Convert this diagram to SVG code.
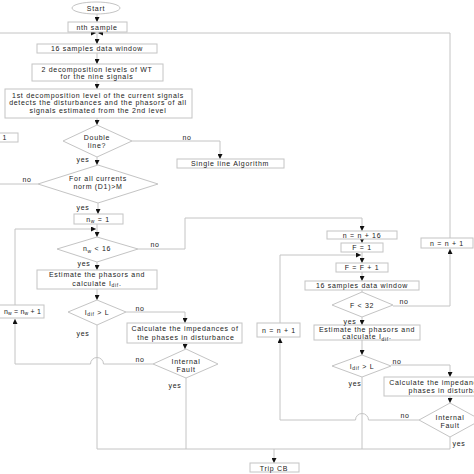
<svg xmlns="http://www.w3.org/2000/svg" width="474" height="474" viewBox="0 0 474 474">
<style>
.bx{fill:#fff;stroke:#c4c4c4;stroke-width:1}
.ln{fill:none;stroke:#c4c4c4;stroke-width:1}
.ar{fill:none;stroke:#c4c4c4;stroke-width:1;marker-end:url(#ah)}
text{font-family:"Liberation Sans",Arial,sans-serif;font-size:7px;letter-spacing:0.7px;fill:#222;text-anchor:middle}
</style>
<defs>
<marker id="ah" viewBox="0 0 6 6" refX="6" refY="3" markerWidth="5" markerHeight="5" markerUnits="userSpaceOnUse" orient="auto">
<path d="M0,0 L6,3 L0,6 z" fill="#111"/>
</marker>
</defs>
<rect width="474" height="474" fill="#fff"/>
<g id="connectors">
<path class="ar" d="M97,14 V22"/>
<path class="ln" d="M97,32 V37"/>
<path class="ar" d="M97,37 V44"/>
<path class="ar" d="M0,33 H96"/>
<path class="ar" d="M450,238 V33 H98"/>
<path class="ar" d="M97,53 V64"/>
<path class="ar" d="M97,81 V89"/>
<path class="ar" d="M97,118 V125"/>
<path class="ar" d="M132,141 H220 V159"/>
<path class="ar" d="M97,157 V165"/>
<path class="ln" d="M38,184 H0"/>
<path class="ar" d="M98,203 V214"/>
<path class="ar" d="M97,224 V237"/>
<path class="ar" d="M15,305 V229 H96"/>
<path class="ar" d="M138,249 H185 V218 H362 V231"/>
<path class="ar" d="M97,262 V270"/>
<path class="ar" d="M97,289 V300"/>
<path class="ar" d="M126,312 H185 V323"/>
<path class="ln" d="M97,325 V449"/>
<path class="ar" d="M185,343 V349"/>
<path class="ar" d="M153,364 H103.5 A6.5,6.5 0 0 0 90.5,364 H15 V319"/>
<path class="ln" d="M186,378 V449"/>
<path class="ar" d="M362,239 V243"/>
<path class="ar" d="M362,252 V263"/>
<path class="ar" d="M280,323 V255 H361"/>
<path class="ar" d="M362,272 V281"/>
<path class="ln" d="M362,290 V292"/>
<path class="ar" d="M393,306 H450 V249"/>
<path class="ar" d="M362,317 V325"/>
<path class="ar" d="M362,340 V355"/>
<path class="ar" d="M391,365 H450 V377"/>
<path class="ln" d="M362,377 V449"/>
<path class="ar" d="M450,396 V403"/>
<path class="ar" d="M419,420 H368.5 A6.5,6.5 0 0 0 355.5,420 H280 V338"/>
<path class="ln" d="M450,437 V449 H97"/>
<path class="ar" d="M274,449 V463"/>
</g>
<g id="start"><ellipse class="bx" cx="96" cy="8" rx="24" ry="6"/><text x="96" y="10.5">Start</text></g>
<g id="nth"><rect class="bx" x="68" y="22" width="59" height="10"/><text x="97" y="29.5">nth sample</text></g>
<g id="window1"><rect class="bx" x="37" y="44" width="120" height="9"/><text x="97" y="51">16 samples data window</text></g>
<g id="wt"><rect class="bx" x="32" y="64" width="131" height="17"/><text x="97" y="71.5">2 decomposition levels of WT</text><text x="97" y="79">for the nine signals</text></g>
<g id="first"><rect class="bx" x="5" y="89" width="187" height="29"/><text x="98" y="97.5">1st decomposition level of the current signals</text><text x="98" y="105">detects the disturbances and the phasors of all</text><text x="98" y="112.5">signals estimated from the 2nd level</text></g>
<g id="leftbox"><rect class="bx" x="-40" y="133" width="58" height="9"/><text x="7" y="140" style="text-anchor:end">n = n + 1</text></g>
<g id="double"><polygon class="bx" points="97,125 132,141 97,157 63,141"/><text x="97" y="139.5">Double</text><text x="97" y="147.5">line?</text></g>
<g id="single"><rect class="bx" x="177" y="159" width="107" height="9"/><text x="230" y="166">Single line Algorithm</text></g>
<g id="forall"><polygon class="bx" points="98,165 158,184 98,203 38,184"/><text x="98" y="180.5">For all currents</text><text x="98" y="188.5">norm (D1)&gt;M</text></g>
<g id="nw1"><rect class="bx" x="74" y="214" width="49" height="10"/><text x="98" y="221.5">n<tspan font-size="5" dy="1.5">w</tspan><tspan dy="-1.5"> = 1</tspan></text></g>
<g id="nw16"><polygon class="bx" points="97,237 138,249 97,262 57,249"/><text x="97" y="251">n<tspan font-size="5" dy="1.5">w</tspan><tspan dy="-1.5"> &lt; 16</tspan></text></g>
<g id="est1"><rect class="bx" x="37" y="270" width="120" height="19"/><text x="97" y="277">Estimate the phasors and</text><text x="97" y="285.5">calculate I<tspan font-size="5" dy="1.5">dif</tspan><tspan dy="-1.5">.</tspan></text></g>
<g id="idif1"><polygon class="bx" points="97,300 126,312 97,325 68,312"/><text x="97" y="314.5">I<tspan font-size="5" dy="1.5">dif</tspan><tspan dy="-1.5"> &gt; L</tspan></text></g>
<g id="nwinc"><rect class="bx" x="-13" y="305" width="57" height="13"/><text x="41" y="313.5" style="text-anchor:end;letter-spacing:0.2px">n<tspan font-size="5" dy="1.5">w</tspan><tspan dy="-1.5"> = n</tspan><tspan font-size="5" dy="1.5">w</tspan><tspan dy="-1.5"> + 1</tspan></text></g>
<g id="calc1"><rect class="bx" x="127" y="323" width="115" height="20"/><text x="185" y="330.5">Calculate the impedances of</text><text x="186" y="339.5">the phases in disturbance</text></g>
<g id="fault1"><polygon class="bx" points="186,349 218,364 186,378 153,364"/><text x="186" y="363.5">Internal</text><text x="186" y="371.5">Fault</text></g>
<g id="n16"><rect class="bx" x="327" y="231" width="70" height="8"/><text x="362" y="237.5">n = n + 16</text></g>
<g id="f1"><rect class="bx" x="341" y="243" width="42" height="9"/><text x="362" y="250">F = 1</text></g>
<g id="ff1"><rect class="bx" x="336" y="263" width="52" height="9"/><text x="362" y="270">F = F + 1</text></g>
<g id="window2"><rect class="bx" x="305" y="281" width="114" height="9"/><text x="362" y="288">16 samples data window</text></g>
<g id="f32"><polygon class="bx" points="362,292 393,305 362,317 332,305"/><text x="362" y="307.5">F &lt; 32</text></g>
<g id="ninc2"><rect class="bx" x="421" y="238" width="52" height="10"/><text x="447" y="245.5">n = n + 1</text></g>
<g id="est2"><rect class="bx" x="314" y="325" width="106" height="15"/><text x="367" y="331.5">Estimate the phasors and</text><text x="367" y="339">calculate I<tspan font-size="5" dy="1.5">dif</tspan><tspan dy="-1.5">.</tspan></text></g>
<g id="ninc1"><rect class="bx" x="257" y="323" width="43" height="14"/><text x="279" y="332.5">n = n + 1</text></g>
<g id="idif2"><polygon class="bx" points="362,355 391,366 362,377 332,366"/><text x="362" y="368.5">I<tspan font-size="5" dy="1.5">dif</tspan><tspan dy="-1.5"> &gt; L</tspan></text></g>
<g id="calc2"><rect class="bx" x="384" y="377" width="136" height="19"/><text x="450" y="384.5">Calculate the impedances of the</text><text x="450" y="392.5">phases in disturbance</text></g>
<g id="fault2"><polygon class="bx" points="450,403 481,420 450,437 419,420"/><text x="450" y="419.5">Internal</text><text x="450" y="427.5">Fault</text></g>
<g id="trip"><rect class="bx" x="250" y="463" width="49" height="9"/><text x="274" y="470.5">Trip CB</text></g>
<g id="labels">
<text x="187" y="139.5">no</text>
<text x="83" y="162">yes</text>
<text x="27" y="181.5">no</text>
<text x="83" y="210">yes</text>
<text x="155" y="246.5">no</text>
<text x="84" y="266">yes</text>
<text x="140" y="311">no</text>
<text x="83" y="335.5">yes</text>
<text x="140" y="362">no</text>
<text x="175" y="387.5">yes</text>
<text x="404" y="304">no</text>
<text x="350" y="324">yes</text>
<text x="397" y="364">no</text>
<text x="355" y="385.5">yes</text>
<text x="405" y="418">no</text>
<text x="459" y="445.5">yes</text>
</g>
</svg>
